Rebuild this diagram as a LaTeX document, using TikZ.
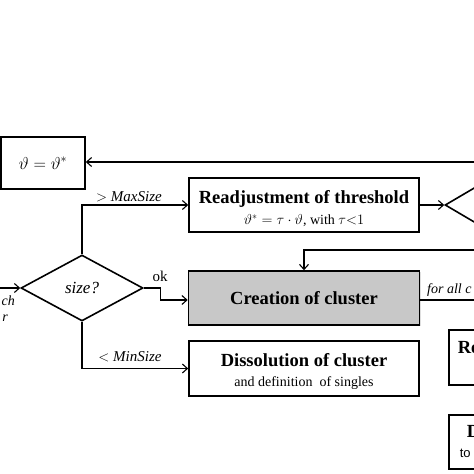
\documentclass[tikz,border=0pt]{standalone}
\usepackage{fontspec}
\setmainfont{Liberation Serif}
\newfontfamily\sansfont{Liberation Sans}
\usetikzlibrary{arrows.meta,shapes.geometric,shadows}
\definecolor{cgray}{RGB}{200,200,200}
\tikzset{box/.style={draw,rectangle,fill=white,line width=1.6pt,inner sep=0pt,align=center,
  font=\fontsize{14}{21}\selectfont,
  drop shadow={shadow xshift=1.2pt,shadow yshift=-1.2pt,opacity=0.25}},
  decision/.style={draw,diamond,fill=white,line width=1.6pt,inner sep=0pt},
  flow/.style={-{Straight Barb[length=5pt,width=9pt,line width=1.1pt]},line width=1.1pt},
  lab/.style={inner sep=0pt,font=\fontsize{15}{15}\selectfont}}
\newcommand{\bigb}{\fontsize{18.5}{21}\selectfont\bfseries}
\newcommand{\smallr}{\fontsize{14}{21}\selectfont\mdseries}

\begin{document}
\begin{tikzpicture}[x=1pt,y=-1pt]
\useasboundingbox (0,0) rectangle (474,474);

\node[box, minimum width=84pt, minimum height=52pt] (theta) at (43,163) {\fontsize{18}{18}\selectfont$\vartheta=\vartheta^{*}$};
\node[box, minimum width=230pt, minimum height=54pt] (readj) at (304,205) {\rule{0pt}{21pt}{\bigb Readjustment of threshold}\\{\smallr $\vartheta^{*}=\tau\cdot\vartheta$, with $\tau{<}1$}};
\node[box, fill=cgray, minimum width=231pt, minimum height=54pt] (create) at (304,298) {\bigb Creation of cluster};
\node[box, minimum width=230pt, minimum height=55pt] (dissol) at (304,368.5) {\rule{0pt}{19pt}{\bigb Dissolution of cluster}\\[-1pt]{\smallr and definition\ \ of singles}};
\node[decision, minimum width=122pt, minimum height=66pt] (size) at (82,288) {\fontsize{17}{17}\selectfont\itshape size?};
\node[decision, minimum width=122pt, minimum height=72pt] (check) at (506,205) {};
\node[box, anchor=north west, minimum height=55pt, text width=80pt, inner xsep=9pt, align=left,
  text height=13pt, text depth=21.6pt] (recalc) at (448,329) {\bigb Re};
\node[box, anchor=north west, minimum height=54pt, text width=80pt, inner xsep=11pt, align=left] (dissolve) at (448,414) {\hspace*{7pt}{\bigb D}\\[-1pt]{\sansfont\fontsize{13}{13}\selectfont to}};

\coordinate (back) at (480,162);
\coordinate (loop) at (480,250);
\coordinate (allc) at (480,300);
\coordinate (in) at (-5,288);

\draw[flow] (back) -- (theta.east |- back);
\draw[flow] (readj.east) -- (check.west);
\draw[flow] (loop) -| (create.north);
\draw[line width=1.1pt] (create.east |- allc) -- (allc);
\draw[flow] (in) -- (size.west);
\draw[flow] (size.north) |- (readj.west);
\draw[flow] (size.east) -- ++(17,0) |- ([yshift=-2pt]create.west);
\draw[flow] (size.south) |- (dissol.west);

\node[lab, anchor=south] (maxl) at (129,202) {$>$ \textit{MaxSize}};
\node[lab, anchor=south] (okl) at (160,282) {ok};
\node[lab, anchor=south] (minl) at (130,362) {$<$ \textit{MinSize}};
\node[lab, anchor=south west, font=\fontsize{14}{14}\selectfont\itshape] (forall) at (427,297) {for all c};
\node[lab, anchor=east, font=\fontsize{14}{14}\selectfont\itshape] (lch) at (15,301) {ch};
\node[lab, anchor=east, font=\fontsize{14}{14}\selectfont\itshape] (lr) at (8,318) {r};
\end{tikzpicture}
\end{document}
